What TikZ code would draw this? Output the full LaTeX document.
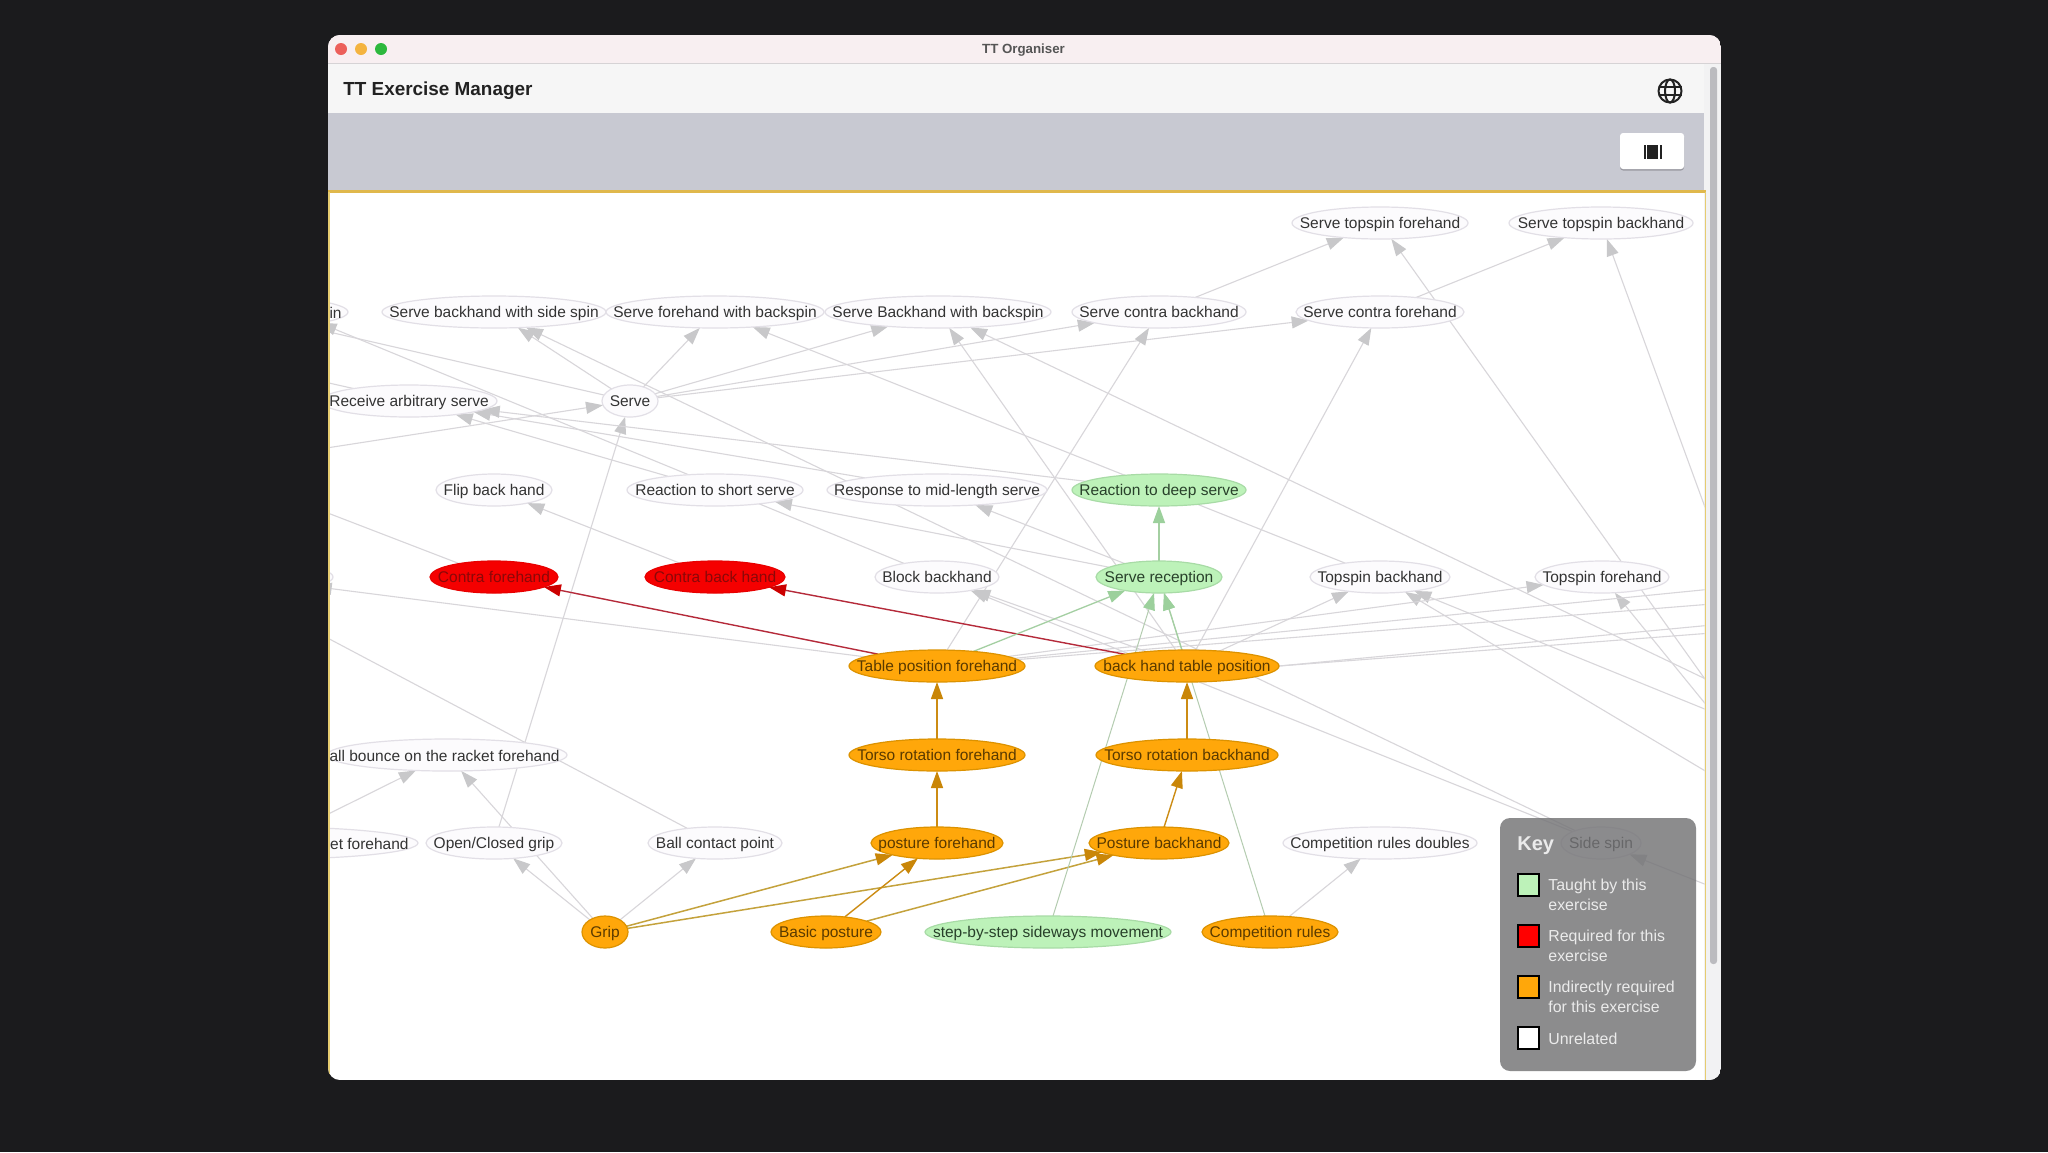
\documentclass[tikz,border=0pt]{standalone}
\usepackage{fontspec}
\setmainfont{Liberation Sans}
\usetikzlibrary{arrows.meta,shapes.geometric}
\pgfdeclarelayer{bgl}\pgfdeclarelayer{edges}\pgfsetlayers{bgl,edges,main}
\definecolor{darkbg}{HTML}{1B1B1D}
\definecolor{gline}{HTML}{D8D6DA}
\definecolor{ghead}{HTML}{C8C8CA}
\definecolor{oline}{HTML}{CC8C14}
\definecolor{oolive}{HTML}{C4A23C}
\definecolor{ohead}{HTML}{C98608}
\definecolor{gnline}{HTML}{A4CFA2}
\definecolor{gnthin}{HTML}{B4CCB0}
\definecolor{gnhead}{HTML}{9CD09C}
\definecolor{rline}{HTML}{B52A3A}
\definecolor{rhead}{HTML}{CC0000}
\definecolor{keybg}{HTML}{737375}
\definecolor{HLline}{HTML}{E2DFE6}
\definecolor{HLfill}{HTML}{FCFBFD}
\definecolor{HLtext}{HTML}{333333}
\definecolor{GNd}{HTML}{A8DBA6}
\definecolor{GNf}{HTML}{BDF2B9}
\definecolor{GNt}{HTML}{28402A}
\definecolor{REd}{HTML}{E80000}
\definecolor{REf}{HTML}{F50000}
\definecolor{REt}{HTML}{8A0808}
\definecolor{ORd}{HTML}{DC9200}
\definecolor{ORf}{HTML}{FFA70A}
\definecolor{ORt}{HTML}{5A3A00}
\definecolor{wintitlec}{HTML}{F8EFF1}
\definecolor{stripc}{HTML}{F2F2F3}
\definecolor{toolc}{HTML}{F6F6F6}
\definecolor{bandc}{HTML}{C8C9D2}
\definecolor{sepc}{HTML}{D6D3D5}
\definecolor{yelc}{HTML}{E0B84C}
\definecolor{yelpale}{HTML}{E6CC70}
\definecolor{thumbc}{HTML}{BBBBBF}
\definecolor{lightr}{HTML}{EC5F5A}
\definecolor{lighta}{HTML}{F4B33F}
\definecolor{lightg}{HTML}{2DB83D}
\definecolor{ttlc}{HTML}{555555}
\definecolor{hdrc}{HTML}{222222}
\definecolor{shadc}{HTML}{9A9AA2}
\tikzset{
 basenode/.style={shape=ellipse,inner sep=0pt,outer sep=0pt,minimum height=16pt,line width=.6pt,
   font=\fontsize{7.75}{9}\selectfont,text height=6.2pt,text depth=1pt},
 plainn/.style={basenode,draw=HLline,fill=HLfill,text=HLtext},
 greenn/.style={basenode,draw=GNd,fill=GNf,text=GNt},
 redn/.style={basenode,draw=REd,fill=REf,text=REt},
 orangen/.style={basenode,draw=ORd,fill=ORf,text=ORt},
 gedge/.style={draw=gline,line width=.55pt,-{Triangle[length=8.5pt,width=6pt,fill=ghead,color=ghead]}},
 gfree/.style={draw=gline,line width=.55pt},
 oedge/.style={draw=oline,line width=.7pt,-{Triangle[length=8.5pt,width=6pt,fill=ohead,color=ohead]}},
 oedgeb/.style={draw=oolive,line width=.75pt,-{Triangle[length=8.5pt,width=6pt,fill=ohead,color=ohead]}},
 nedge/.style={draw=gnline,line width=.65pt,-{Triangle[length=8.5pt,width=6pt,fill=gnhead,color=gnhead]}},
 nthin/.style={draw=gnthin,line width=.5pt,-{Triangle[length=8.5pt,width=6pt,fill=gnhead,color=gnhead]}},
 redge/.style={draw=rline,line width=.7pt,-{Triangle[length=8.5pt,width=6pt,fill=rhead,color=rhead]}},
 keytxt/.style={anchor=west,inner sep=0pt,text=white!92!black,font=\fontsize{7.95}{9}\selectfont},
 swatch/.style={draw=black,line width=1pt},
}
\newcommand\gnode[6]{\node[#2,minimum width=#5pt] (#1) at (#3,#4) {\makebox[0pt]{#6}};}
\begin{document}
\begin{tikzpicture}[x=.5pt,y=-.5pt]
\useasboundingbox (0,0) rectangle (2048,1152);
\begin{pgfonlayer}{bgl}
\fill[darkbg] (0,0) rectangle (2048,1152);
\begin{scope}
\clip[rounded corners=6pt] (328,35) rectangle (1721,1080);
\fill[white] (328,35) rectangle (1721,1080);
\fill[wintitlec] (328,35) rectangle (1721,63);
\fill[stripc] (1704,63) rectangle (1721,1080);
\fill[toolc] (328,64) rectangle (1704,113);
\fill[bandc] (328,113) rectangle (1704,190);
\draw[sepc,line width=.6pt] (328,63.5) -- (1721,63.5);
\fill[yelc] (328,190) rectangle (1706,192.5);
\fill[yelpale] (328,192) rectangle (330,1080);
\fill[yelpale] (1704.5,192) rectangle (1706,1080);
\end{scope}
\fill[thumbc,rounded corners=1.5pt] (1710,67) rectangle (1717,964);
\end{pgfonlayer}
\fill[lightr] (341,49) circle (6);
\fill[lighta] (361,49) circle (6);
\fill[lightg] (381,49) circle (6);
\node[inner sep=0pt,text=ttlc,font=\fontsize{6.65}{8}\selectfont\bfseries] (wintitle) at (1023.5,50) {TT Organiser};
\node[inner sep=0pt,anchor=west,text=hdrc,font=\fontsize{9.45}{11}\selectfont\bfseries] (apptitle) at (343,90.5) {TT Exercise Manager};
% globe
\begin{scope}[hdrc,line width=1pt]
\draw (1670,91) circle (11.5);
\draw (1670,91) ellipse (5 and 11.5);
\draw (1658.5,87) -- (1681.5,87);
\draw (1658.5,95) -- (1681.5,95);
\end{scope}
% button
\fill[shadc,rounded corners=1.5pt] (1620,134.5) rectangle (1684,170.5);
\fill[white,rounded corners=1.5pt] (1620,133) rectangle (1684,169);
\fill[hdrc] (1643.5,145) rectangle (1645.5,159);
\fill[hdrc] (1647,145) rectangle (1658,159);
\fill[hdrc] (1659.5,145) rectangle (1662,159);

\begin{scope}
\clip (330,192.5) rectangle (1704.5,1080);
\gnode{pin}{plainn}{242}{312}{106}{}
\node[anchor=east,inner sep=0pt,text=HLtext,font=\fontsize{7.75}{9}\selectfont] (pintxt) at (342,313) {in};
\gnode{sbs}{plainn}{494}{312}{112}{Serve backhand with side spin}
\gnode{sfb}{plainn}{715}{312}{109}{Serve forehand with backspin}
\gnode{sbb}{plainn}{938}{312}{113}{Serve Backhand with backspin}
\gnode{scb}{plainn}{1159}{312}{87}{Serve contra backhand}
\gnode{scf}{plainn}{1380}{312}{84}{Serve contra forehand}
\gnode{stf}{plainn}{1380}{223}{88}{Serve topspin forehand}
\gnode{stb}{plainn}{1601}{223}{92}{Serve topspin backhand}
\gnode{ras}{plainn}{409}{401}{88}{Receive arbitrary serve}
\gnode{srv}{plainn}{630}{401}{28}{Serve}
\gnode{fbh}{plainn}{494}{490}{58}{Flip back hand}
\gnode{rss}{plainn}{715}{490}{88}{Reaction to short serve}
\gnode{rml}{plainn}{937}{490}{110}{Response to mid-length serve}
\gnode{rds}{greenn}{1159}{490}{87}{Reaction to deep serve}
\gnode{lfn}{plainn}{240}{577}{93}{}
\gnode{cfh}{redn}{494}{577}{64}{Contra forehand}
\gnode{cbh}{redn}{715}{577}{70}{Contra back hand}
\gnode{bbh}{plainn}{937}{577}{62}{Block backhand}
\gnode{srp}{greenn}{1159}{577}{63}{Serve reception}
\gnode{tbh}{plainn}{1380}{577}{70}{Topspin backhand}
\gnode{tfh}{plainn}{1602}{577}{67}{Topspin forehand}
\gnode{tpf}{orangen}{937}{666}{88}{Table position forehand}
\gnode{bhp}{orangen}{1187}{666}{92}{back hand table position}
\gnode{bbr}{plainn}{447}{755}{120}{}
\node[anchor=east,inner sep=0pt,text=HLtext,font=\fontsize{7.75}{9}\selectfont] (bbrtxt) at (560,756) {all bounce on the racket forehand};
\gnode{trf}{orangen}{937}{755}{88}{Torso rotation forehand}
\gnode{trb}{orangen}{1187}{755}{91}{Torso rotation backhand}
\gnode{ket}{plainn}{270}{843}{148}{}
\node[anchor=east,inner sep=0pt,text=HLtext,font=\fontsize{7.75}{9}\selectfont] (kettxt) at (409,844) {ket forehand};
\gnode{ocg}{plainn}{494}{843}{68}{Open/Closed grip}
\gnode{bcp}{plainn}{715}{843}{67}{Ball contact point}
\gnode{pfh}{orangen}{937}{843}{66}{posture forehand}
\gnode{pbh}{orangen}{1159}{843}{70}{Posture backhand}
\gnode{crd}{plainn}{1380}{843}{97}{Competition rules doubles}
\gnode{ssp}{plainn}{1601}{843}{40}{Side spin}
\gnode{grp}{orangen}{605}{932}{23}{Grip}
\gnode{bsp}{orangen}{826}{932}{55}{Basic posture}
\gnode{sss}{greenn}{1048}{932}{123}{step-by-step sideways movement}
\gnode{crl}{orangen}{1270}{932}{68}{Competition rules}
\coordinate (lfa) at (320,449);
\coordinate (lfb) at (320,510);
\coordinate (lfc) at (320,634);
\coordinate (lfd) at (320,381);
\coordinate (rta) at (1712,682);
\coordinate (rtb) at (1706,510);
\coordinate (rtc) at (1712,689);
\coordinate (rtd) at (1712,775);
\coordinate (rte) at (1712,712);
\coordinate (rtf) at (1712,887);
\coordinate (rtg) at (1712,589);
\coordinate (rth) at (1712,604);
\coordinate (rti) at (1712,625);
\coordinate (rtj) at (1712,633);
\end{scope}

\begin{pgfonlayer}{edges}
\begin{scope}
\clip (330,192.5) rectangle (1704.5,1080);
\draw[gedge] (srv) -- (sbs);
\draw[gedge] (srv) -- (sfb);
\draw[gedge] (srv) -- (sbb);
\draw[gedge] (srv) -- (scb);
\draw[gedge] (srv) -- (scf);
\draw[gedge] (srv) -- (pin);
\draw[gedge] (lfa) -- (srv);
\draw[gedge] (ocg) -- (srv);
\draw[gedge] (ssp) -- (sbs);
\draw[gedge] (tbh) -- (sfb);
\draw[gedge] (bhp) -- (sbb);
\draw[gedge] (rta) -- (sbb);
\draw[gedge] (tpf) -- (scb);
\draw[gedge] (bhp) -- (scf);
\draw[gedge] (scb) -- (stf);
\draw[gedge] (scf) -- (stb);
\draw[gedge] (rtc) -- (stf);
\draw[gedge] (rtb) -- (stb);
\draw[gedge] (rss) -- (ras);
\draw[gedge] (rml) -- (ras);
\draw[gedge] (rds) -- (ras);
\draw[gedge] (bbh) -- (pin.-8);
\draw[gfree] (lfd) -- (ras);
\draw[gedge] (cbh) -- (fbh);
\draw[gedge] (srp) -- (rss);
\draw[gedge] (srp) -- (rml);
\draw[gedge] (ssp) -- (bbh);
\draw[gedge] (bhp) -- (bbh);
\draw[gedge] (tpf) -- (lfn);
\draw[gfree] (cfh) -- (lfb);
\draw[gfree] (bcp) -- (lfc);
\draw[gedge] (ket) -- (bbr);
\draw[gedge] (grp) -- (bbr);
\draw[gedge] (grp) -- (ocg);
\draw[gedge] (grp) -- (bcp);
\draw[gedge] (crl) -- (crd);
\draw[gedge] (bhp) -- (tbh);
\draw[gedge] (rtd) -- (tbh);
\draw[gedge] (rte) -- (tbh);
\draw[gedge] (rte) -- (tfh);
\draw[gedge] (tpf) -- (tfh);
\draw[gedge] (rtf) -- (ssp);
\draw[gfree] (tpf) -- (rtg);
\draw[gfree] (tpf) -- (rth);
\draw[gfree] (bhp.east) -- (rti);
\draw[gfree] (bhp.east) -- (rtj);
\draw[oedgeb] (grp) -- (pfh);
\draw[oedgeb] (grp) -- (pbh);
\draw[oedge] (bsp) -- (pfh);
\draw[oedgeb] (bsp) -- (pbh);
\draw[oedge] (pfh) -- (trf);
\draw[oedge] (trf) -- (tpf);
\draw[oedge] (pbh) -- (trb);
\draw[oedge] (trb) -- (bhp);
\draw[redge] (tpf) -- (cfh);
\draw[redge] (bhp) -- (cbh);
\draw[nedge] (srp) -- (rds);
\draw[nedge] (tpf) -- (srp);
\draw[nthin] (sss) -- (srp);
\draw[nthin] (crl) -- (srp);
\draw[nedge] (bhp) -- (srp);
\end{scope}
\end{pgfonlayer}

% key panel
\fill[keybg,opacity=.82,rounded corners=5pt] (1500,818) rectangle (1696,1071);
\node[anchor=west,inner sep=0pt,text=white!92!black,font=\fontsize{10}{12}\selectfont\bfseries] (keyhead) at (1517,846) {Key};
\path[swatch,fill=GNf] (1518,874) rectangle (1539,896);
\path[swatch,fill=red] (1518,925) rectangle (1539,947);
\path[swatch,fill=ORf] (1518,976) rectangle (1539,998);
\path[swatch,fill=white] (1518,1027) rectangle (1539,1049);
\node[keytxt] (k1a) at (1548,886) {Taught by this};
\node[keytxt] (k1b) at (1548,905) {exercise};
\node[keytxt] (k2a) at (1548,937) {Required for this};
\node[keytxt] (k2b) at (1548,956) {exercise};
\node[keytxt] (k3a) at (1548,988) {Indirectly required};
\node[keytxt] (k3b) at (1548,1007) {for this exercise};
\node[keytxt] (k4a) at (1548,1039) {Unrelated};
\end{tikzpicture}
\end{document}
